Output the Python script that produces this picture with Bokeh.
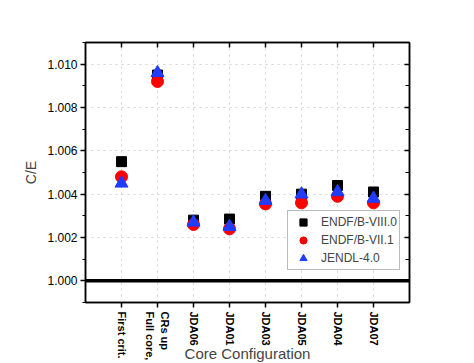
from bokeh.plotting import figure
from bokeh.models import LinearAxis, FixedTicker, NumeralTickFormatter, Span, Range1d
from bokeh.embed import file_html
from bokeh.resources import INLINE

categories = ["First crit.", "CRs up\nFull core,", "JDA06", "JDA01", "JDA03", "JDA05", "JDA04", "JDA07"]
endf8 = [1.0055, 1.0095, 1.0028, 1.00285, 1.0039, 1.0040, 1.0044, 1.0041]
endf71 = [1.0048, 1.0092, 1.0026, 1.0024, 1.00355, 1.0036, 1.0039, 1.0036]
jendl = [1.0045, 1.0096, 1.0027, 1.0025, 1.0037, 1.0040, 1.0041, 1.0038]
y_major = [1.000, 1.002, 1.004, 1.006, 1.008, 1.010]
y_minor = [0.999, 1.001, 1.003, 1.005, 1.007, 1.009, 1.011]
reference_value = 1.000

xpos = list(range(1, len(categories) + 1))
FONT = "Liberation Sans"

p = figure(frame_width=324, frame_height=260, output_backend="svg", toolbar_location=None,
           x_range=Range1d(0, len(categories) + 1), y_range=Range1d(0.999, 1.011),
           min_border_left=85, min_border_right=60, min_border_top=42, min_border_bottom=5)
p.background_fill_color = "white"
p.outline_line_color = "black"
p.outline_line_width = 1.5

# grids
p.xgrid.ticker = FixedTicker(ticks=xpos)
p.ygrid.ticker = FixedTicker(ticks=y_major)
for g in (p.xgrid, p.ygrid):
    g.grid_line_color = "#d4d4d4"
    g.grid_line_dash = "dotted"
    g.grid_line_width = 1

# bottom axis
xa = p.xaxis[0]
xa.ticker = FixedTicker(ticks=xpos)
xa.major_label_overrides = {i: c for i, c in zip(xpos, categories)}
xa.major_label_orientation = "vertical"
xa.major_label_text_font = FONT
xa.major_label_text_font_style = "bold"
xa.major_label_text_font_size = "11px"
xa.major_label_text_color = "black"
xa.major_tick_out = 5
xa.major_tick_in = 0
xa.minor_tick_out = 0
xa.axis_line_width = 1.5
xa.major_tick_line_width = 1.5
xa.major_label_standoff = 4
xa.axis_label = "Core Configuration"
xa.axis_label_text_font = FONT
xa.axis_label_text_font_size = "15px"
xa.axis_label_text_font_style = "normal"
xa.axis_label_standoff = -18

# left axis
ya = p.yaxis[0]
ya.ticker = FixedTicker(ticks=y_major, minor_ticks=y_minor)
ya.formatter = NumeralTickFormatter(format="0.000")
ya.major_label_text_font = FONT
ya.major_label_text_font_size = "12px"
ya.major_label_text_color = "black"
ya.major_label_standoff = 3
ya.axis_label = "C/E"
ya.axis_label_text_font = FONT
ya.axis_label_text_font_size = "14px"
ya.axis_label_text_font_style = "normal"
ya.axis_label_standoff = 5
ya.major_tick_out = 5
ya.major_tick_in = 0
ya.minor_tick_out = 3
ya.minor_tick_in = 0
ya.axis_line_width = 1.5
ya.major_tick_line_width = 1.5

# top axis (ticks only)
top = LinearAxis(ticker=FixedTicker(ticks=xpos), major_label_text_font_size="0px",
                 major_tick_in=5, major_tick_out=0, minor_tick_out=0, axis_line_width=1.5,
                 major_tick_line_width=1.5)
top.major_label_overrides = {i: "" for i in xpos}
p.add_layout(top, "above")

# right axis (ticks only)
right = LinearAxis(ticker=FixedTicker(ticks=y_major, minor_ticks=y_minor),
                   major_label_text_font_size="0px",
                   major_tick_in=5, major_tick_out=0, minor_tick_in=4, minor_tick_out=0,
                   axis_line_width=1.5, major_tick_line_width=1.5)
right.major_label_overrides = {v: "" for v in y_major}
p.add_layout(right, "right")

# reference line
p.add_layout(Span(location=reference_value, dimension="width", line_color="black", line_width=3.5))

p.scatter(xpos, endf8, marker="square", size=10, color="black", legend_label="ENDF/B-VIII.0")
p.scatter(xpos, endf71, marker="circle", size=12, color="#ff0000", legend_label="ENDF/B-VII.1")
p.scatter(xpos, jendl, marker="triangle", size=13, color="#1f3cff", legend_label="JENDL-4.0")

lg = p.legend[0]
lg.location = (202, 32)
lg.border_line_color = "#777777"
lg.border_line_width = 1
lg.background_fill_alpha = 1
lg.label_text_font = FONT
lg.label_text_font_size = "12px"
lg.label_height = 14
lg.glyph_height = 18
lg.glyph_width = 26
lg.spacing = 0
lg.padding = 2
lg.margin = 0
lg.label_standoff = 5

open("out.html", "w").write(file_html(p, INLINE))
